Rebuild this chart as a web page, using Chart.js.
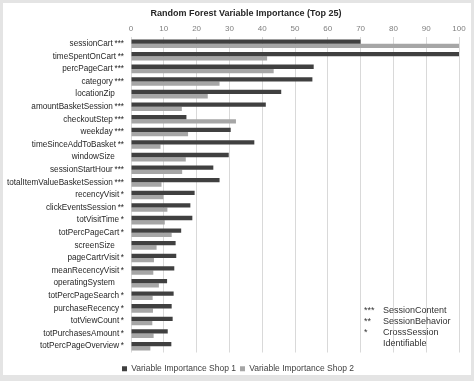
<!DOCTYPE html>
<html>
<head>
<meta charset="utf-8">
<script src="https://cdn.jsdelivr.net/npm/chart.js@4.4.1/dist/chart.umd.min.js"></script>
<style>
  html, body { margin: 0; padding: 0; background: #e4e4e4; }
  #wrap { position: absolute; left: 3px; top: 3px; width: 468px; height: 372px; background: #fff; }
</style>
</head>
<body>
<div id="wrap"><canvas id="chart" width="468" height="372"></canvas></div>
<script>
// variable names with group markers (*** content, ** behavior, * cross session)
const variables = [
    'sessionCart\u2009***', 'timeSpentOnCart\u2009**', 'percPageCart\u2009***', 'category\u2009***',
    'locationZip    ', 'amountBasketSession\u2009***', 'checkoutStep\u2009***', 'weekday\u2009***',
    'timeSinceAddToBasket\u2009**', 'windowSize    ', 'sessionStartHour\u2009***',
    'totalItemValueBasketSession\u2009***', 'recencyVisit\u2009*', 'clickEventsSession\u2009**',
    'totVisitTime\u2009*', 'totPercPageCart\u2009*', 'screenSize    ', 'pageCartrVisit\u2009*',
    'meanRecencyVisit\u2009*', 'operatingSystem    ', 'totPercPageSearch\u2009*',
    'purchaseRecency\u2009*', 'totViewCount\u2009*', 'totPurchasesAmount\u2009*', 'totPercPageOverview\u2009*'
];
const shop1 = [70, 100, 55.7, 55.3, 45.8, 41.1, 16.9, 30.4, 37.6, 29.8, 25.1, 27.0, 19.4,
    18.1, 18.7, 15.3, 13.6, 13.8, 13.2, 11.0, 13.0, 12.4, 12.7, 11.2, 12.3];
const shop2 = [100, 41.5, 43.5, 27.0, 23.4, 15.5, 32.0, 17.4, 9.0, 16.7, 15.6, 9.3, 9.9,
    11.1, 10.3, 12.4, 7.8, 7.0, 6.8, 8.5, 6.6, 6.7, 6.5, 6.9, 5.9];
const xTicks = [0, 10, 20, 30, 40, 50, 60, 70, 80, 90, 100];
const groupKey = [
    ['***', 'SessionContent'],
    ['**', 'SessionBehavior'],
    ['*', 'CrossSession'],
    ['', 'Identifiable']
];

const font = '"Liberation Sans", Arial, sans-serif';

// small text box with the star legend, bottom right of the plot
const keyBox = {
    id: 'keyBox',
    afterDatasetsDraw(chart) {
        const { ctx, chartArea, scales } = chart;
        const xStar = scales.x.getPixelForValue(71);
        const xText = scales.x.getPixelForValue(76.8);
        ctx.save();
        ctx.font = '9px ' + font;
        ctx.fillStyle = '#333';
        ctx.textBaseline = 'middle';
        groupKey.forEach((row, i) => {
            const y = chartArea.bottom - 42 + i * 11;
            ctx.fillText(row[0], xStar, y);
            ctx.fillText(row[1], xText, y);
        });
        ctx.restore();
    }
};

// nudge title and legend to where they sit in the original
const nudge = {
    id: 'nudge',
    afterLayout(chart) {
        const t = chart.titleBlock, l = chart.legend;
        t.left += 15; t.right += 15;
        l.left += 7; l.right += 7;
        l.top += 8; l.bottom += 8;
    }
};

new Chart(document.getElementById('chart'), {
    type: 'bar',
    data: {
        labels: variables,
        datasets: [
            {
                label: 'Variable Importance Shop 1',
                data: shop1,
                backgroundColor: '#404040'
            },
            {
                label: 'Variable Importance Shop 2',
                data: shop2,
                backgroundColor: '#a6a6a6'
            }
        ]
    },
    options: {
        indexAxis: 'y',
        responsive: false,
        animation: false,
        layout: { padding: { left: 0, right: 12, top: 0, bottom: 0 } },
        datasets: { bar: { categoryPercentage: 0.68, barPercentage: 1 } },
        scales: {
            x: {
                position: 'top',
                min: 0,
                max: 100,
                afterBuildTicks: (s) => { s.ticks = xTicks.map(v => ({ value: v })); },
                grid: { color: '#d9d9d9', drawTicks: false },
                border: { display: false },
                ticks: { color: '#7f7f7f', font: { family: font, size: 8 }, padding: 4 }
            },
            y: {
                afterFit: (s) => { s.width = 128; },
                grid: { display: false, drawTicks: false },
                border: { display: false },
                ticks: { color: '#262626', font: { family: font, size: 8.2 }, padding: 7, autoSkip: false }
            }
        },
        plugins: {
            title: {
                display: true,
                text: 'Random Forest Variable Importance (Top 25)',
                color: '#262626',
                font: { family: font, size: 9, weight: 'bold' },
                padding: { top: 5, bottom: 1 }
            },
            legend: {
                position: 'bottom',
                labels: {
                    boxWidth: 5,
                    boxHeight: 5,
                    color: '#404040',
                    font: { family: font, size: 8.5 },
                    padding: 4
                }
            },
            tooltip: { enabled: false }
        }
    },
    plugins: [keyBox, nudge]
});
</script>
</body>
</html>
